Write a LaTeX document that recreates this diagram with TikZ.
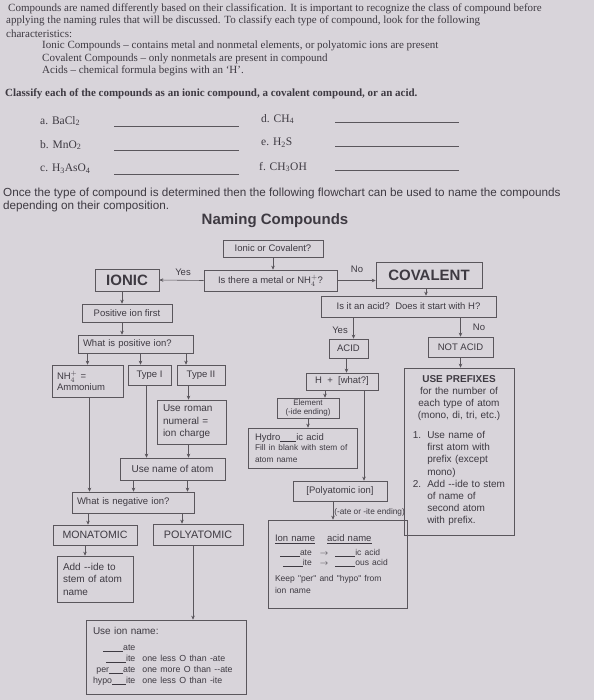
\documentclass[tikz,border=0pt]{standalone}
\usepackage{fontspec}
\setmainfont{Liberation Serif}
\newfontfamily\arial{Liberation Sans}
\usetikzlibrary{arrows.meta,positioning,calc}
\definecolor{paper}{RGB}{216,212,218}
\definecolor{ink}{RGB}{62,58,66}
\definecolor{rule}{RGB}{90,86,92}
\newcommand\fsz[2]{\fontsize{#1}{#2}\selectfont}
\newcommand\blank[1]{\rule[-0.5pt]{#1}{0.5pt}}
\begin{document}
\begin{tikzpicture}[x=1pt,y=-1pt,text=ink,
  box/.style={draw=rule,line width=0.6pt,inner xsep=5pt,inner ysep=2pt,font=\arial\fsz{9.5}{11.5}},
  arr/.style={draw=rule,line width=0.6pt,-{Stealth[length=4pt,width=3.5pt]}},
  yn/.style={font=\arial\fsz{9.5}{11.5}},
  intro/.style={anchor=west,inner sep=0pt,font=\fsz{11}{12.5}},
  quiz/.style={anchor=west,inner sep=0pt,font=\fsz{11.5}{13}},
  gap/.style={draw=rule,line width=0.5pt}]
\fill[paper] (0,0) rectangle (594,700);
\useasboundingbox (0,0) rectangle (594,700);

% worksheet text
\node[intro] (intro1) at (8,9) {Compounds are named differently based on their classification. It is important to recognize the class of compound before};
\node[intro] (intro2) at (6,21) {applying the naming rules that will be discussed. To classify each type of compound, look for the following};
\node[intro] (intro3) at (6,33.5) {characteristics:};
\node[intro] (ionicdef) at (42,46) {Ionic Compounds -- contains metal and nonmetal elements, or polyatomic ions are present};
\node[intro] (covdef) at (42,58.5) {Covalent Compounds -- only nonmetals are present in compound};
\node[intro] (aciddef) at (42,71) {Acids -- chemical formula begins with an `H'.};
\node[intro,font=\bfseries\fsz{11}{12.5}] (task) at (5,94) {Classify each of the compounds as an ionic compound, a covalent compound, or an acid.};

\node[quiz] (qa) at (40,121) {a. BaCl\textsubscript{2}};
\node[quiz] (qb) at (40,145) {b. MnO\textsubscript{2}};
\node[quiz] (qc) at (40,169) {c. H\textsubscript{3}AsO\textsubscript{4}};
\node[quiz] (qd) at (261,119) {d. CH\textsubscript{4}};
\node[quiz] (qe) at (261,143) {e. H\textsubscript{2}S};
\node[quiz] (qf) at (259,167) {f. CH\textsubscript{3}OH};
\draw[gap] (114,126) -- (239,126);
\draw[gap] (114,150) -- (239,150);
\draw[gap] (114,174) -- (239,174);
\draw[gap] (335,122) -- (459,122);
\draw[gap] (335,146) -- (459,146);
\draw[gap] (335,170) -- (459,170);

\node[anchor=west,inner sep=0pt,font=\arial\fsz{11.7}{13}] (once1) at (3,193) {Once the type of compound is determined then the following flowchart can be used to name the compounds};
\node[anchor=west,inner sep=0pt,font=\arial\fsz{11.7}{13}] (once2) at (3,206) {depending on their composition.};
\node[font=\arial\bfseries\fsz{15}{17}] (title) at (275,221) {Naming Compounds};

% top of chart
\node[box,minimum width=100pt,minimum height=17pt] (start) at (273,248.5) {Ionic or Covalent?};
\node[box,minimum width=133pt,minimum height=21pt] (metal) at (270.5,280.5) {Is there a metal or NH$_4^+$?};
\node[box,minimum width=64pt,minimum height=22pt,font=\arial\bfseries\fsz{15}{17}] (ionic) at (127,280) {IONIC};
\node[box,minimum width=106pt,minimum height=26pt,font=\arial\bfseries\fsz{15}{17}] (covalent) at (429,275) {COVALENT};
\node[yn] (yesion) at (183,272) {Yes};
\node[yn] (nocov) at (357,269) {No};

% covalent side
\node[box,minimum width=175pt,minimum height=21pt] (isacid) at (408.5,306.5) {Is it an acid?\ \ Does it start with H?};
\node[box,minimum width=39pt,minimum height=19pt] (acid) at (348.5,348.5) {ACID};
\node[box,minimum width=65pt,minimum height=20pt] (notacid) at (460.5,347) {NOT ACID};
\node[yn] (yesacid) at (340,330) {Yes};
\node[yn] (noacid) at (479,327) {No};
\node[box,minimum width=72pt,minimum height=17pt] (hwhat) at (342,381.5) {H\ \ +\ \ [what?]};
\node[box,minimum width=62pt,minimum height=20pt,align=center,font=\arial\fsz{8}{8.5}] (element) at (308,408) {Element\\(-ide ending)};
\node[box,text width=95pt,minimum height=40pt,align=left,inner xsep=7pt] (hydro) at (302.5,448) {Hydro\blank{16pt}ic acid\\\fsz{8.3}{10}Fill in blank with stem of\\atom name};
\node[box,minimum width=94pt,minimum height=20pt] (polyion) at (340,491) {[Polyatomic ion]};
\node[box,text width=125pt,minimum height=88pt,align=left,inner xsep=7pt] (ionname) at (337.5,564) {\underline{Ion name}\hspace{12pt}\underline{acid name}\\[4pt]
{\fsz{8.5}{10}\begin{tabular}{@{\hspace{5pt}}r@{\hspace{8pt}}c@{\hspace{7pt}}l@{}}
\blank{20pt}ate & $\rightarrow$ & \blank{20pt}ic acid\\
\blank{20pt}ite & $\rightarrow$ & \blank{20pt}ous acid
\end{tabular}}\\[6pt]
\fsz{8.5}{12}Keep "per" and "hypo" from\\ion name};
\node[box,text width=100pt,minimum height=167pt,align=center,font=\arial\fsz{10}{12.2}] (prefixes) at (459,451.5) {\textbf{USE PREFIXES}\\
for the number of\\
each type of atom\\
(mono, di, tri, etc.)\\[8pt]
\begin{tabular}{@{}l@{\hspace{6pt}}l@{}}
1. & Use name of\\
   & first atom with\\
   & prefix (except\\
   & mono)\\
2. & Add --ide to stem\\
   & of name of\\
   & second atom\\
   & with prefix.
\end{tabular}};

% ionic side
\node[box,minimum width=90pt,minimum height=18pt] (posfirst) at (127,313) {Positive ion first};
\node[box,text width=105pt,minimum height=18pt,align=left] (whatpos) at (135.5,344) {What is positive ion?};
\node[box,text width=61pt,minimum height=32pt,align=left] (ammonium) at (87.5,381) {NH$_4^+$ =\\Ammonium};
\node[box,minimum width=43pt,minimum height=20pt] (typeone) at (149.5,375) {Type I};
\node[box,minimum width=48pt,minimum height=20pt] (typetwo) at (201,375) {Type II};
\node[box,text width=57pt,minimum height=44pt,align=left,inner xsep=6pt,font=\arial\fsz{10}{12.5}] (roman) at (191.5,422) {Use roman\\numeral =\\ion charge};
\node[box,minimum width=105pt,minimum height=22pt,font=\arial\fsz{10}{12}] (atomname) at (172.5,469) {Use name of atom};
\node[box,text width=112pt,minimum height=21pt,align=left] (whatneg) at (133,502.5) {What is negative ion?};
\node[box,minimum width=84pt,minimum height=20pt,font=\arial\fsz{10.6}{12}] (monatomic) at (95,535) {MONATOMIC};
\node[box,minimum width=90pt,minimum height=21pt,font=\arial\fsz{10.8}{12}] (polyatomic) at (198,534.5) {POLYATOMIC};
\node[box,text width=64pt,minimum height=46pt,align=left,inner xsep=6pt,font=\arial\fsz{10}{12.5}] (addide) at (95,579) {Add --ide to\\stem of atom\\name};
\node[box,text width=146pt,minimum height=74pt,align=left,inner xsep=7pt,font=\arial\fsz{10}{11.5}] (useion) at (166,657) {Use ion name:\\[8pt]
{\fsz{8.8}{11}\begin{tabular}{@{}r@{\hspace{7pt}}l@{}}
\blank{20pt}ate & \\
\blank{20pt}ite & one less O than -ate\\
per\blank{14pt}ate & one more O than --ate\\
hypo\blank{14pt}ite & one less O than -ite
\end{tabular}}};

% connectors
\draw[arr] (start.south) -- (start.south |- metal.north);
\draw[arr] (metal.west) -- (ionic.east);
\draw[arr] (metal.east) -- (metal.east -| covalent.west);
\draw[arr] ([xshift=-3pt]covalent.south) -- ([xshift=-3pt]covalent.south |- isacid.north);
\draw[arr] ([xshift=5pt]acid.north |- isacid.south) -- ([xshift=5pt]acid.north);
\draw[arr] (notacid.north |- isacid.south) -- (notacid.north);
\draw[arr] ([xshift=-2pt]acid.south) -- ([xshift=-2pt]acid.south |- hwhat.north);
\draw[arr] ([xshift=-17pt]hwhat.south) -- ([xshift=-17pt]hwhat.south |- element.north);
\draw[arr] (element.south) -- (element.south |- hydro.north);
\draw[arr] ([xshift=22pt]hwhat.south) -- ([xshift=22pt]hwhat.south |- polyion.north);
\draw[arr] ([xshift=-7pt]polyion.south) -- node[right,inner xsep=1pt,yshift=-2pt,font=\arial\fsz{8.3}{9}] (ending) {(-ate or -ite ending)} ([xshift=-7pt]polyion.south |- ionname.north);
\draw[arr] (notacid.south) -- (notacid.south |- prefixes.north);

\draw[arr] ([xshift=-5pt]ionic.south) -- ([xshift=-5pt]ionic.south |- posfirst.north);
\draw[arr] ([xshift=-5pt]posfirst.south) -- ([xshift=-5pt]posfirst.south |- whatpos.north);
\draw[arr] (ammonium.north |- whatpos.south) -- (ammonium.north);
\draw[arr] ([xshift=-9pt]typeone.north |- whatpos.south) -- ([xshift=-9pt]typeone.north);
\draw[arr] ([xshift=-15pt]typetwo.north |- whatpos.south) -- ([xshift=-15pt]typetwo.north);
\draw[arr] ([xshift=-3pt]roman.north |- typetwo.south) -- ([xshift=-3pt]roman.north);
\draw[arr] ([xshift=-3pt]typeone.south) -- ([xshift=-3pt]typeone.south |- atomname.north);
\draw[arr] ([xshift=-3pt]roman.south) -- ([xshift=-3pt]roman.south |- atomname.north);
\draw[arr] ([xshift=2pt]ammonium.south) -- ([xshift=2pt]ammonium.south |- whatneg.north);
\draw[arr] ([xshift=-39pt]atomname.south) -- ([xshift=-39pt]atomname.south |- whatneg.north);
\draw[arr] ([xshift=15pt]atomname.south) -- ([xshift=15pt]atomname.south |- whatneg.north);
\draw[arr] ([xshift=-7pt]monatomic.north |- whatneg.south) -- ([xshift=-7pt]monatomic.north);
\draw[arr] ([xshift=-16pt]polyatomic.north |- whatneg.south) -- ([xshift=-16pt]polyatomic.north);
\draw[arr] ([xshift=-10pt]monatomic.south) -- ([xshift=-10pt]monatomic.south |- addide.north);
\draw[arr] ([xshift=-5pt]polyatomic.south) -- ([xshift=-5pt]polyatomic.south |- useion.north);
\end{tikzpicture}
\end{document}
